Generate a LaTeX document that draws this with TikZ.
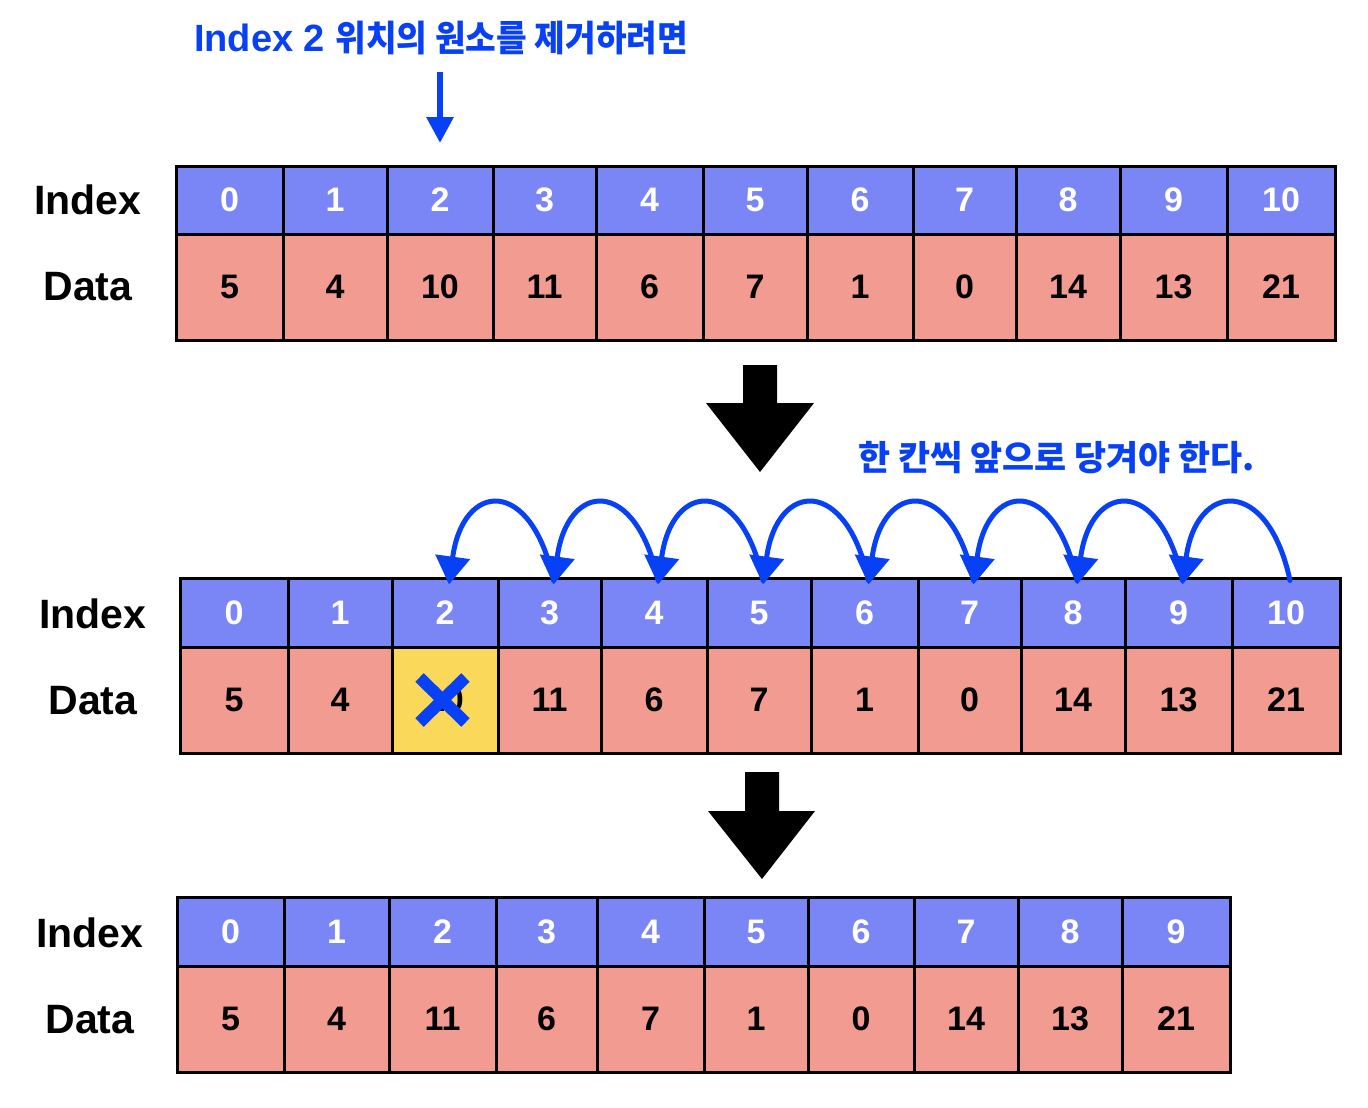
\documentclass[tikz,border=0pt]{standalone}
\usepackage{fontspec}
\setmainfont{Liberation Sans}
\newfontfamily\kr{Noto Sans CJK KR}[FakeStretch=0.925]
\newfontfamily\krw{Noto Sans CJK KR}[FakeStretch=1.01]
\usetikzlibrary{arrows.meta}
\definecolor{idxblue}{RGB}{122,133,246}
\definecolor{salmon}{RGB}{241,155,145}
\definecolor{markyellow}{RGB}{249,216,90}
\definecolor{txtblue}{RGB}{8,64,245}
\tikzset{
  cell/.style={draw=black, line width=3pt, inner sep=0pt, font=\fontsize{34}{40}\selectfont\bfseries},
  idxcell/.style={cell, fill=idxblue, text=white},
  datacell/.style={cell, fill=salmon, text=black},
  rowlabel/.style={inner sep=0pt, font=\fontsize{41}{48}\selectfont\bfseries},
  shiftarc/.style={draw=txtblue, line width=5pt, line cap=round, -{Triangle[width=34pt,length=28pt]}},
  bigarrow/.style={fill=black, draw=none},
}
\begin{document}
\begin{tikzpicture}[x=1pt,y=-1pt]
\useasboundingbox (0,0) rectangle (1368,1108);
% ---------- title ----------
\node[anchor=base west, inner sep=0pt, text=txtblue] (title) at (194,52)
  {{\fontsize{38}{44}\selectfont\bfseries Index 2 }{\kr\fontsize{36}{42}\selectfont\bfseries 위치의 원소를 제거하려면}};
% ---------- table 1 ----------
\node[rowlabel] (t1-il) at (88,200) {Index};
\node[rowlabel] (t1-dl) at (88,287) {Data};
\foreach \i/\xa/\xb/\v in {0/176/283/5,1/283/387/4,2/387/493/10,3/493/596/11,4/596/703/6,5/703/807/7,6/807/913/1,7/913/1016/0,8/1016/1120/14,9/1120/1227/13,10/1227/1335/21}{
  \node[idxcell, minimum width={(\xb-\xa)*1pt}, minimum height=68pt] (t1-\i) at ({(\xa+\xb)/2},200) {\i};
  \node[datacell, minimum width={(\xb-\xa)*1pt}, minimum height=106pt] (t1d-\i) at ({(\xa+\xb)/2},287) {\v};
}
\coordinate (pa) at (440,72);
\coordinate (pb) at (440,143);
\draw[txtblue, line width=6pt, -{Triangle[width=26pt,length=26pt]}] (pa) -- (pb);
% ---------- big arrow 1 ----------
\fill[bigarrow] (743,365) -- (777,365) -- (777,403) -- (814,403) -- (760,472) -- (706,403) -- (743,403) -- cycle;
% ---------- note ----------
\node[anchor=base west, inner sep=0pt, text=txtblue, font=\krw\fontsize{34.5}{40}\selectfont\bfseries] (note) at (858,470) {한 칸씩 앞으로 당겨야 한다.};
% ---------- table 2 ----------
\node[rowlabel] (t2-il) at (93,614) {Index};
\node[rowlabel] (t2-dl) at (93,701) {Data};
\foreach \i/\xa/\xb/\v/\c in {0/180/288/5/salmon,1/288/392/4/salmon,2/392/498/10/markyellow,3/498/601/11/salmon,4/601/707/6/salmon,5/707/811/7/salmon,6/811/918/1/salmon,7/918/1021/0/salmon,8/1021/1125/14/salmon,9/1125/1232/13/salmon,10/1232/1340/21/salmon}{
  \node[idxcell, minimum width={(\xb-\xa)*1pt}, minimum height=69pt] (t2-\i) at ({(\xa+\xb)/2},612.5) {\i};
  \node[datacell, fill=\c, minimum width={(\xb-\xa)*1pt}, minimum height=106pt] (t2d-\i) at ({(\xa+\xb)/2},700) {\v};
}
% X mark
\draw[txtblue, line width=12pt] (419.5,677.5) -- (465.5,722.5);
\draw[txtblue, line width=12pt] (465.5,677.5) -- (419.5,722.5);
% shift arcs
\foreach \i/\j in {2/3,3/4,4/5,5/6,6/7,7/8,8/9,9/10}{
  \draw[shiftarc] ([xshift=4pt,yshift=-4pt]t2-\j.north) .. controls +(-22,-104) and +(14,-104) .. ([xshift=4pt,yshift=-8pt]t2-\i.north);
}
% ---------- big arrow 2 ----------
\fill[bigarrow] (745,772) -- (779,772) -- (779,811) -- (815,811) -- (762,879) -- (708,811) -- (745,811) -- cycle;
% ---------- table 3 ----------
\node[rowlabel] (t3-il) at (90,933) {Index};
\node[rowlabel] (t3-dl) at (90,1020) {Data};
\foreach \i/\xa/\xb/\v in {0/177/284/5,1/284/389/4,2/389/496/11,3/496/597/6,4/597/704/7,5/704/808/1,6/808/914/0,7/914/1018/14,8/1018/1122/13,9/1122/1230/21}{
  \node[idxcell, minimum width={(\xb-\xa)*1pt}, minimum height=69pt] (t3-\i) at ({(\xa+\xb)/2},931.5) {\i};
  \node[datacell, minimum width={(\xb-\xa)*1pt}, minimum height=106pt] (t3d-\i) at ({(\xa+\xb)/2},1019) {\v};
}
\end{tikzpicture}
\end{document}
